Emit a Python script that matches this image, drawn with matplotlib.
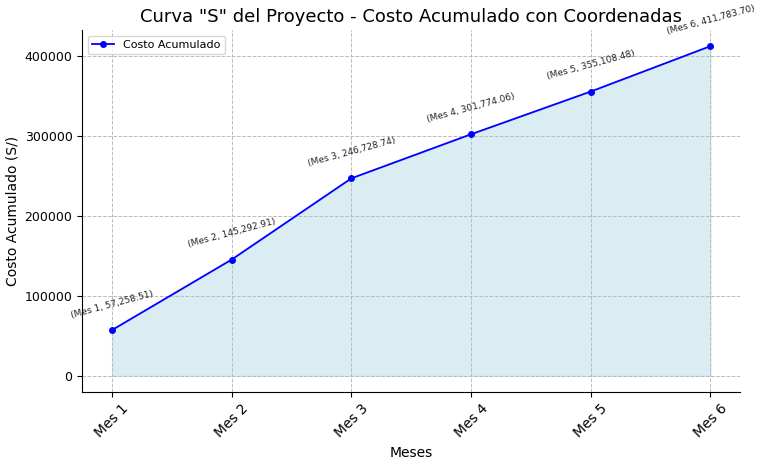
import matplotlib
matplotlib.use("Agg")
import matplotlib.pyplot as plt

meses = ["Mes 1", "Mes 2", "Mes 3", "Mes 4", "Mes 5", "Mes 6"]
costos = [57258.51, 145292.91, 246728.74, 301774.06, 355108.48, 411783.70]

fig = plt.figure(figsize=(7.68, 4.61), dpi=100)
ax = fig.add_axes([0.107, 0.15, 0.857, 0.785])
x = list(range(len(meses)))
ax.fill_between(x, costos, 0, color="lightblue", alpha=0.45)
ax.plot(x, costos, color="blue", marker="o", markersize=4, linewidth=1.3, label="Costo Acumulado")
for xi, m, c in zip(x, meses, costos):
    ax.annotate(f"({m}, {c:,.2f})", (xi, c), xytext=(0, 9), textcoords="offset points",
                ha="center", fontsize=6.5, rotation=15, color="#222222")
ax.set_xticks(x)
ax.set_xticklabels(meses, rotation=45, fontsize=10)
ax.tick_params(axis="y", labelsize=9)
ax.set_xlim(-0.25, 5.25)
ax.set_ylim(-20000, 432000)
ax.grid(True, linestyle="--", color="#bbbbbb", linewidth=0.7)
ax.set_title('Curva "S" del Proyecto - Costo Acumulado con Coordenadas', fontsize=13)
ax.set_xlabel("Meses", fontsize=10)
ax.set_ylabel("Costo Acumulado (S/)", fontsize=10)
ax.legend(loc="upper left", fontsize=8)
for s in ["top", "right"]:
    ax.spines[s].set_visible(False)
fig.savefig("out.png", dpi=100)
